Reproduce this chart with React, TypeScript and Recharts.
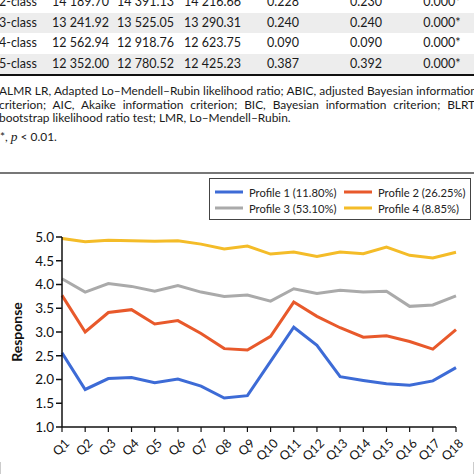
import React from 'react';
import { LineChart, Line, XAxis, YAxis } from 'recharts';

const categories = ['Q1','Q2','Q3','Q4','Q5','Q6','Q7','Q8','Q9','Q10','Q11','Q12','Q13','Q14','Q15','Q16','Q17','Q18'];
const profile1 = [2.56,1.79,2.02,2.04,1.93,2.01,1.86,1.61,1.66,2.38,3.10,2.72,2.06,1.98,1.91,1.88,1.97,2.25];
const profile2 = [3.77,3.00,3.41,3.47,3.17,3.24,2.97,2.65,2.62,2.91,3.63,3.33,3.09,2.89,2.92,2.80,2.64,3.05];
const profile3 = [4.12,3.84,4.02,3.96,3.86,3.98,3.84,3.75,3.78,3.65,3.91,3.81,3.88,3.84,3.86,3.54,3.57,3.76];
const profile4 = [4.97,4.90,4.93,4.92,4.91,4.92,4.85,4.75,4.81,4.64,4.685,4.59,4.685,4.65,4.79,4.615,4.56,4.68];
const seriesNames = ['Profile 1 (11.80%)','Profile 2 (26.25%)','Profile 3 (53.10%)','Profile 4 (8.85%)'];
const seriesKeys = ['p1','p2','p3','p4'];
const seriesColors = ['#3d6bd6','#e8592b','#aaaaaa','#f4bc28'];
const yTicks = [1.0,1.5,2.0,2.5,3.0,3.5,4.0,4.5,5.0];

const tableClasses = ['2-class','3-class','4-class','5-class'];
const tableAIC = ['14 189.70','13 241.92','12 562.94','12 352.00'];
const tableBIC = ['14 391.13','13 525.05','12 918.76','12 780.52'];
const tableABIC = ['14 216.66','13 290.31','12 623.75','12 425.23'];
const tableLMR = ['0.228','0.240','0.090','0.387'];
const tableALMR = ['0.230','0.240','0.090','0.392'];
const tableBLRT = ['0.000*','0.000*','0.000*','0.000*'];

const noteLines = [
  'ALMR LR, Adapted Lo\u2013Mendell\u2013Rubin likelihood ratio; ABIC, adjusted Bayesian information',
  'criterion; AIC, Akaike information criterion; BIC, Bayesian information criterion; BLRT,',
  'bootstrap likelihood ratio test; LMR, Lo\u2013Mendell\u2013Rubin.',
];

const data = categories.map((q, i) => ({ q, p1: profile1[i], p2: profile2[i], p3: profile3[i], p4: profile4[i] }));

const FONT = 'Lato, "Open Sans", sans-serif';

const XTick = (props: any) => {
  const { x, y, payload } = props;
  const ax = x + 5;
  const ay = y + 7;
  return (
    <text x={ax} y={ay} transform={`rotate(-45, ${ax}, ${ay})`} textAnchor="end" dominantBaseline="central" fontSize={12.5} fontFamily={FONT} fill="#111">
      {payload.value}
    </text>
  );
};

const YLabel = (props: any) => {
  const vb = props.viewBox || {};
  const cx = 22;
  const cy = (vb.y || 0) + (vb.height || 0) / 2;
  return (
    <text x={cx} y={cy} transform={`rotate(-90, ${cx}, ${cy})`} textAnchor="middle" fontSize={14} fontWeight="bold" fontFamily={FONT} fill="#111">
      Response
    </text>
  );
};

const cellStyle = (left: number, align: 'left' | 'center', width: number): React.CSSProperties => ({
  position: 'absolute', left, width, textAlign: align, whiteSpace: 'nowrap',
});

export default function App() {
  const rowH = 20.5;
  const rowTop0 = -7.8;
  return (
    <div style={{ position: 'fixed', left: 0, top: 0, width: 474, height: 474, overflow: 'hidden', background: '#fff', fontFamily: FONT, color: '#1a1a1a' }}>
      {tableClasses.map((c, i) => (
        <div key={c} style={{ position: 'absolute', left: 0, top: rowTop0 + i * rowH, width: 474, height: rowH, lineHeight: `${rowH}px`, fontSize: 12.5, background: i % 2 === 1 ? '#ededed' : '#fff' }}>
          <span style={cellStyle(-1, 'left', 50)}>{c}</span>
          <span style={cellStyle(52, 'left', 60)}>{tableAIC[i]}</span>
          <span style={cellStyle(117, 'left', 60)}>{tableBIC[i]}</span>
          <span style={cellStyle(184, 'left', 60)}>{tableABIC[i]}</span>
          <span style={cellStyle(253, 'center', 60)}>{tableLMR[i]}</span>
          <span style={cellStyle(336, 'center', 60)}>{tableALMR[i]}</span>
          <span style={cellStyle(412, 'center', 60)}>{tableBLRT[i]}</span>
        </div>
      ))}
      <div style={{ position: 'absolute', left: 0, top: 74, width: 474, height: 2, background: '#111' }} />
      {noteLines.map((t, i) => (
        <div key={i} style={{ position: 'absolute', left: -1, top: 84 + i * 13.6, width: 478, fontSize: 11.9, lineHeight: '13.6px', whiteSpace: 'nowrap', textAlign: 'justify', textAlignLast: i < 2 ? 'justify' : 'left' } as React.CSSProperties}>
          {t}
        </div>
      ))}
      <div style={{ position: 'absolute', left: 0, top: 130, fontSize: 11.9, lineHeight: '13.6px', whiteSpace: 'nowrap' }}>
        *, <span style={{ fontFamily: '"Liberation Serif", serif', fontStyle: 'italic', fontSize: 13.5 }}>p</span> &lt; 0.01.
      </div>
      <div style={{ position: 'absolute', left: 0, top: 172, width: 474, height: 1.5, background: '#777' }} />

      <div style={{ position: 'absolute', left: 209, top: 178, width: 260, height: 40, border: '1px solid #444', fontSize: 11.2, color: '#222' }}>
        {seriesNames.map((n, i) => {
          const col = i % 2;
          const row = Math.floor(i / 2);
          return (
            <div key={n} style={{ position: 'absolute', left: col === 0 ? 5 : 134, top: row === 0 ? 5 : 21, height: 16, display: 'flex', alignItems: 'center', whiteSpace: 'nowrap' }}>
              <svg width={28} height={4} style={{ display: 'block' }}><rect x={0} y={0.5} width={28} height={3} fill={seriesColors[i]} /></svg>
              <span style={{ marginLeft: 6 }}>{n}</span>
            </div>
          );
        })}
      </div>

      <div style={{ position: 'absolute', left: 0, top: 175 }}>
        <LineChart width={474} height={299} data={data} margin={{ top: 62, right: 18, left: 0, bottom: 7 }}>
          <XAxis dataKey="q" interval={0} height={40} tick={<XTick />} tickSize={5} stroke="#111" strokeWidth={1.5} tickLine={{ stroke: '#111', strokeWidth: 1.2 }} />
          <YAxis domain={[1, 5]} ticks={yTicks} width={62} tickSize={6} tickMargin={2} interval={0} allowDataOverflow
            tickFormatter={(v: number) => v.toFixed(1)} stroke="#111" strokeWidth={1.5}
            tick={{ fontSize: 13.5, fontFamily: FONT, fill: '#111' }}
            label={<YLabel />} />
          {seriesKeys.map((k, i) => (
            <Line key={k} type="linear" dataKey={k} name={seriesNames[i]} stroke={seriesColors[i]} strokeWidth={3} dot={false} isAnimationActive={false} />
          ))}
        </LineChart>
      </div>
      <div style={{ position: 'absolute', left: 0, top: 462, width: 472, height: 20, borderLeft: '1px solid #ccc', borderRight: '1px solid #ccc' }} />
    </div>
  );
}
